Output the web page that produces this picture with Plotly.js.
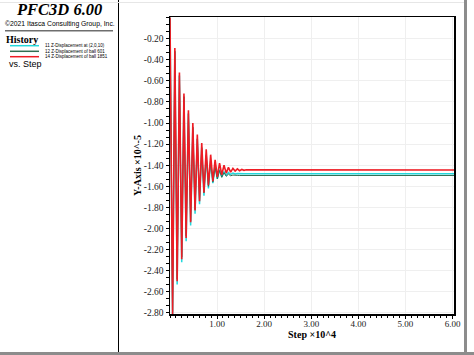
<!DOCTYPE html>
<html><head><meta charset="utf-8">
<script src="https://cdn.plot.ly/plotly-3.0.1.min.js"></script>
<style>html,body{margin:0;padding:0;background:#fff}#chart{width:474px;height:355px}</style>
</head><body><div id="chart"></div>
<script>
// Step (x10^4) at the turning points of the histories
const steps = [0, 0.055, 0.103, 0.152, 0.200, 0.249, 0.296, 0.343, 0.391, 0.438, 0.485, 0.532, 0.580, 0.627, 0.674, 0.721, 0.769, 0.816, 0.863, 0.910, 0.958, 1.005, 1.052, 1.099, 1.147, 1.194, 1.241, 1.288, 1.336, 1.383, 1.430, 1.477, 1.525, 1.572, 1.619, 6.03];
// 11 Z-Displacement at (2,0,10)  (x10^-5)
const hist11 = [0, -2.83, -0.32, -2.53, -0.55, -2.32, -0.75, -2.12, -0.91, -1.97, -1.04, -1.86, -1.15, -1.77, -1.23, -1.69, -1.30, -1.62, -1.36, -1.57, -1.41, -1.53, -1.44, -1.51, -1.46, -1.495, -1.47, -1.486, -1.475, -1.482, -1.478, -1.481, -1.479, -1.480, -1.480, -1.480];
// 12 Z-Displacement of ball 601
const hist12 = [0, -2.79, -0.32, -2.48, -0.55, -2.27, -0.75, -2.07, -0.91, -1.93, -1.04, -1.82, -1.15, -1.73, -1.24, -1.66, -1.31, -1.60, -1.37, -1.56, -1.42, -1.53, -1.45, -1.515, -1.47, -1.505, -1.485, -1.50, -1.493, -1.498, -1.496, -1.497, -1.497, -1.497, -1.497, -1.497];
// 14 Z-Displacement of ball 1851
const hist14 = [0, -2.81, -0.29, -2.50, -0.52, -2.29, -0.72, -2.09, -0.88, -1.94, -1.00, -1.83, -1.11, -1.74, -1.19, -1.66, -1.25, -1.59, -1.30, -1.55, -1.35, -1.51, -1.38, -1.49, -1.40, -1.475, -1.42, -1.465, -1.43, -1.455, -1.435, -1.452, -1.44, -1.448, -1.443, -1.445];

const seriesNames = ['11 Z-Displacement at (2,0,10)', '12 Z-Displacement of ball 601', '14 Z-Displacement of ball 1851'];
const seriesColors = ['#22d8dc', '#2f6e52', '#ee1c24'];

const yTickVals = [-0.2, -0.4, -0.6, -0.8, -1.0, -1.2, -1.4, -1.6, -1.8, -2.0, -2.2, -2.4, -2.6, -2.8];
const yTickText = ['-0.20', '-0.40', '-0.60', '-0.80', '-1.00', '-1.20', '-1.40', '-1.60', '-1.80', '-2.00', '-2.20', '-2.40', '-2.60', '-2.80'];
const xTickVals = [1, 2, 3, 4, 5, 6];
const xTickText = ['1.00', '2.00', '3.00', '4.00', '5.00', '6.00'];

// page geometry
const L = 170, R = 454, T = 17, B = 314;
const px = x => (x - L) / (R - L);
const py = y => (B - y) / (B - T);

const serif = 'Liberation Serif, Times New Roman, serif';
const sans = 'Liberation Sans, Arial, sans-serif';

const traces = [
  {x: steps, y: hist11, mode: 'lines', name: seriesNames[0], line: {color: seriesColors[0], width: 1.5}},
  {x: steps, y: hist12, mode: 'lines', name: seriesNames[1], line: {color: seriesColors[1], width: 1}},
  {x: steps, y: hist14, mode: 'lines', name: seriesNames[2], line: {color: seriesColors[2], width: 1.6}}
];

const shapes = [
  {type: 'line', xref: 'paper', yref: 'paper', x0: px(118.5), x1: px(118.5), y0: py(0), y1: py(352), line: {color: '#000', width: 1}},
  {type: 'rect', xref: 'paper', yref: 'paper', x0: px(0), x1: px(474), y0: py(352), y1: py(355), fillcolor: '#8c8c8c', line: {width: 0}},
  {type: 'rect', xref: 'paper', yref: 'paper', x0: px(464), x1: px(467), y0: py(0), y1: py(352), fillcolor: '#8c8c8c', line: {width: 0}},
  {type: 'line', xref: 'paper', yref: 'paper', x0: px(0), x1: px(464), y0: py(2.5), y1: py(2.5), line: {color: '#e6e6e6', width: 1}},
  {type: 'line', xref: 'paper', yref: 'paper', x0: px(5), x1: px(113), y0: py(30.7), y1: py(30.7), line: {color: '#6e6e6e', width: 1.5}}
];
const legendY = [45.7, 51.3, 56.7];
seriesNames.forEach((n, i) => {
  shapes.push({type: 'line', xref: 'paper', yref: 'paper', x0: px(10), x1: px(39), y0: py(legendY[i]), y1: py(legendY[i]), line: {color: seriesColors[i], width: 1.5}});
});

const annotations = [
  {text: '<b><i>PFC3D 6.00</i></b>', x: px(59), y: py(9.5), xanchor: 'center', yanchor: 'middle', font: {family: serif, size: 16.5, color: '#000'}},
  {text: '©2021 Itasca Consulting Group, Inc.', x: px(59.5), y: py(24), xanchor: 'center', yanchor: 'middle', font: {family: sans, size: 6.8, color: '#000'}},
  {text: '<b>History</b>', x: px(5), y: py(39.5), xanchor: 'left', yanchor: 'middle', font: {family: serif, size: 10, color: '#000'}},
  {text: 'vs. Step', x: px(8), y: py(63.5), xanchor: 'left', yanchor: 'middle', font: {family: sans, size: 9, color: '#000'}}
];
seriesNames.forEach((n, i) => {
  annotations.push({text: n, x: px(44), y: py(legendY[i]), xanchor: 'left', yanchor: 'middle', font: {family: sans, size: 4.5, color: '#000'}});
});
annotations.forEach(a => { a.xref = 'paper'; a.yref = 'paper'; a.showarrow = false; a.borderpad = 0; });

const layout = {
  width: 474, height: 355,
  margin: {l: L, r: 474 - R, t: T, b: 355 - B, pad: 0},
  paper_bgcolor: '#fff', plot_bgcolor: '#fff',
  showlegend: false,
  font: {family: serif, size: 9, color: '#222'},
  xaxis: {
    range: [0, 6.03], tickmode: 'array', tickvals: xTickVals, ticktext: xTickText,
    ticks: 'outside', ticklen: 3, tickwidth: 1, tickcolor: '#000', ticklabelstandoff: -2,
    minor: {tickmode: 'linear', tick0: 0, dtick: 0.125, ticks: 'outside', ticklen: 2.5, tickcolor: '#000', showgrid: false},
    showline: true, linecolor: '#000', linewidth: 1.5, mirror: true,
    showgrid: true, gridcolor: '#efefef', gridwidth: 1, zeroline: false,
    tickfont: {family: serif, size: 9, color: '#222'},
    title: {text: '<b>Step ×10^4</b>', font: {family: serif, size: 10, color: '#000'}, standoff: 0}
  },
  yaxis: {
    range: [-2.81, 0.005], tickmode: 'array', tickvals: yTickVals, ticktext: yTickText,
    ticks: 'outside', ticklen: 3, tickwidth: 1, tickcolor: '#000',
    minor: {tickmode: 'linear', tick0: 0, dtick: 0.2 / 3, ticks: 'outside', ticklen: 2.5, tickcolor: '#000', showgrid: false},
    showline: true, linecolor: '#000', linewidth: 1.5, mirror: true,
    showgrid: true, gridcolor: '#efefef', gridwidth: 1, zeroline: false,
    tickfont: {family: serif, size: 9.5, color: '#222'},
    title: {text: '<b>Y-Axis ×10^-5</b>', font: {family: serif, size: 10, color: '#000'}, standoff: 0}
  },
  shapes: shapes,
  annotations: annotations
};

Plotly.newPlot('chart', traces, layout, {staticPlot: true, displayModeBar: false});
</script>
</body></html>
